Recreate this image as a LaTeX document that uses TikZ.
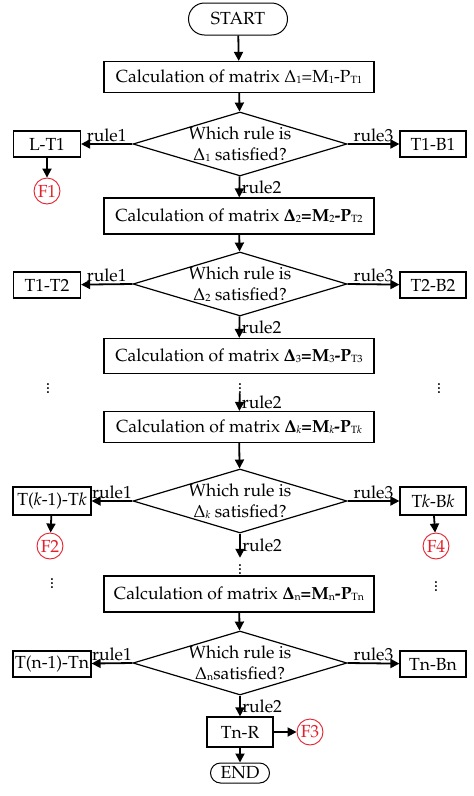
\documentclass[tikz,border=0pt]{standalone}
\usepackage[T1]{fontenc}
\usepackage{mathpazo}
\usepackage{amsmath,amssymb}
\usepackage{bm}
\usepackage{xcolor}
\usepackage{tikz}
\usetikzlibrary{arrows.meta,shapes.geometric,shapes.misc,positioning}

\definecolor{fred}{RGB}{226,32,44}
\newcommand{\sbs}[1]{\raisebox{-0.1ex}{\fontsize{10.5pt}{11pt}\selectfont #1}}
\newcommand{\kk}{\textit{k}}

\begin{document}
\begin{tikzpicture}[x=1pt, y=-1pt,
    font=\fontsize{17.5pt}{20pt}\selectfont,
    term/.style={draw, rounded rectangle, line width=1pt, inner sep=0pt},
    calcbox/.style={draw, rectangle, line width=1.2pt, inner sep=0pt, minimum width=270pt},
    decide/.style={draw, diamond, line width=1.2pt, inner sep=-6pt, aspect=3.3,
      minimum width=214pt, minimum height=64pt, align=center,
      font=\fontsize{17.5pt}{21pt}\selectfont},
    res/.style={draw, rectangle, line width=1.2pt, inner sep=0pt, minimum height=26pt},
    fcirc/.style={draw=fred, text=fred, circle, line width=0.9pt, inner sep=0pt, minimum size=26pt},
    arr/.style={-{Triangle[length=9pt,width=9pt]}, line width=1.8pt},
    lbl/.style={inner sep=1.5pt},
    dots/.style={inner sep=0pt}]

  \useasboundingbox (0,0) rectangle (474,796);

  % start
  \node[term, minimum width=99pt, minimum height=32pt] (start) at (238,19) {START};

  % step 1
  \node[calcbox, minimum height=31pt] (c1) at (239,77)
    {Calculation of matrix $\Delta$\sbs{1}=M\sbs{1}-P\sbs{T1}};
  \node[decide] (d1) at (240,144) {Which rule is\\ $\Delta$\sbs{1} satisfied?};
  \node[res, minimum width=67pt] (l1) at (47,144) {L-T1};
  \node[res, minimum width=66pt] (r1) at (433,144) {T1-B1};
  \node[fcirc] (f1) at (47,191) {F1};

  % step 2
  \node[calcbox, minimum height=36pt] (c2) at (239,216)
    {Calculation of matrix $\bm{\Delta}$\sbs{2}\textbf{=M}\sbs{2}\textbf{-P}\sbs{T2}};
  \node[decide] (d2) at (240,284) {Which rule is\\ $\Delta$\sbs{2} satisfied?};
  \node[res, minimum width=67pt] (l2) at (47,285) {T1-T2};
  \node[res, minimum width=66pt] (r2) at (433,285) {T2-B2};

  % step 3
  \node[calcbox, minimum height=35pt] (c3) at (239,356)
    {Calculation of matrix $\bm{\Delta}$\sbs{3}\textbf{=M}\sbs{3}\textbf{-P}\sbs{T3}};

  % dots
  \node[dots] (v3) at (240,385) {$\vdots$};
  \node[dots] (vl3) at (48,385) {$\vdots$};
  \node[dots] (vr3) at (439,385) {$\vdots$};

  % step k
  \node[calcbox, minimum height=31pt] (ck) at (239,427)
    {Calculation of matrix $\bm{\Delta}$\sbs{\kk}\textbf{=M}\sbs{\kk}\textbf{-P}\sbs{T\kk}};
  \node[decide] (dk) at (240,501) {Which rule is\\ $\Delta$\sbs{\kk} satisfied?};
  \node[res, minimum width=78pt, minimum height=28pt] (lk) at (52,501) {T(\kk-1)-T\kk};
  \node[res, minimum width=66pt, minimum height=28pt] (rk) at (433,501) {T\kk-B\kk};
  \node[fcirc] (f2) at (50,546) {F2};
  \node[fcirc] (f4) at (436,546) {F4};

  % dots
  \node[dots] (vk) at (240,566) {$\vdots$};
  \node[dots] (vlk) at (52,580) {$\vdots$};
  \node[dots] (vrk) at (436,583) {$\vdots$};

  % step n
  \node[calcbox, minimum height=36pt] (cn) at (239,594)
    {Calculation of matrix $\bm{\Delta}$\sbs{n}\textbf{=M}\sbs{n}\textbf{-P}\sbs{Tn}};
  \node[decide] (dn) at (240,663) {Which rule is\\ $\Delta$\sbs{n}satisfied?};
  \node[res, minimum width=78pt] (ln) at (52,664) {T(n-1)-Tn};
  \node[res, minimum width=66pt] (rn) at (433,664) {Tn-Bn};
  \node[res, minimum width=66pt, minimum height=30pt] (tnr) at (240,732) {Tn-R};
  \node[fcirc] (f3) at (310,732) {F3};

  % end
  \node[term, minimum width=59pt, minimum height=20pt] (stop) at (240,773) {END};

  % connectors
  \draw[arr] (start) -- (c1);
  \draw[arr] (c1) -- (d1);
  \draw[arr] (d1.west) -- node[lbl, above] {rule1} (l1);
  \draw[arr] (d1.east) -- node[lbl, above] {rule3} (r1);
  \draw[arr] (l1) -- (f1);
  \draw[arr] (d1) -- node[lbl, right] {rule2} (c2);

  \draw[arr] (c2) -- (d2);
  \draw[arr] (d2.west) -- node[lbl, above] {rule1} (l2);
  \draw[arr] (d2.east) -- node[lbl, above] {rule3} (r2);
  \draw[arr] (d2) -- node[lbl, right] {rule2} (c3);

  \draw[arr] (v3) -- node[lbl, right] {rule2} (ck);
  \draw[arr] (ck) -- (dk);
  \draw[arr] (dk.west) -- node[lbl, above] {rule1} (lk);
  \draw[arr] (dk.east) -- node[lbl, above] {rule3} (rk);
  \draw[arr] (lk) -- (f2);
  \draw[arr] (rk) -- (f4);
  \draw[arr] (dk) -- node[lbl, right] {rule2} (vk);

  \draw[arr] (cn) -- (dn);
  \draw[arr] (dn.west) -- node[lbl, above] {rule1} (ln);
  \draw[arr] (dn.east) -- node[lbl, above] {rule3} (rn);
  \draw[arr] (dn) -- node[lbl, right] {rule2} (tnr);
  \draw[arr] (tnr) -- (f3);
  \draw[arr] (tnr) -- (stop);

\end{tikzpicture}
\end{document}
